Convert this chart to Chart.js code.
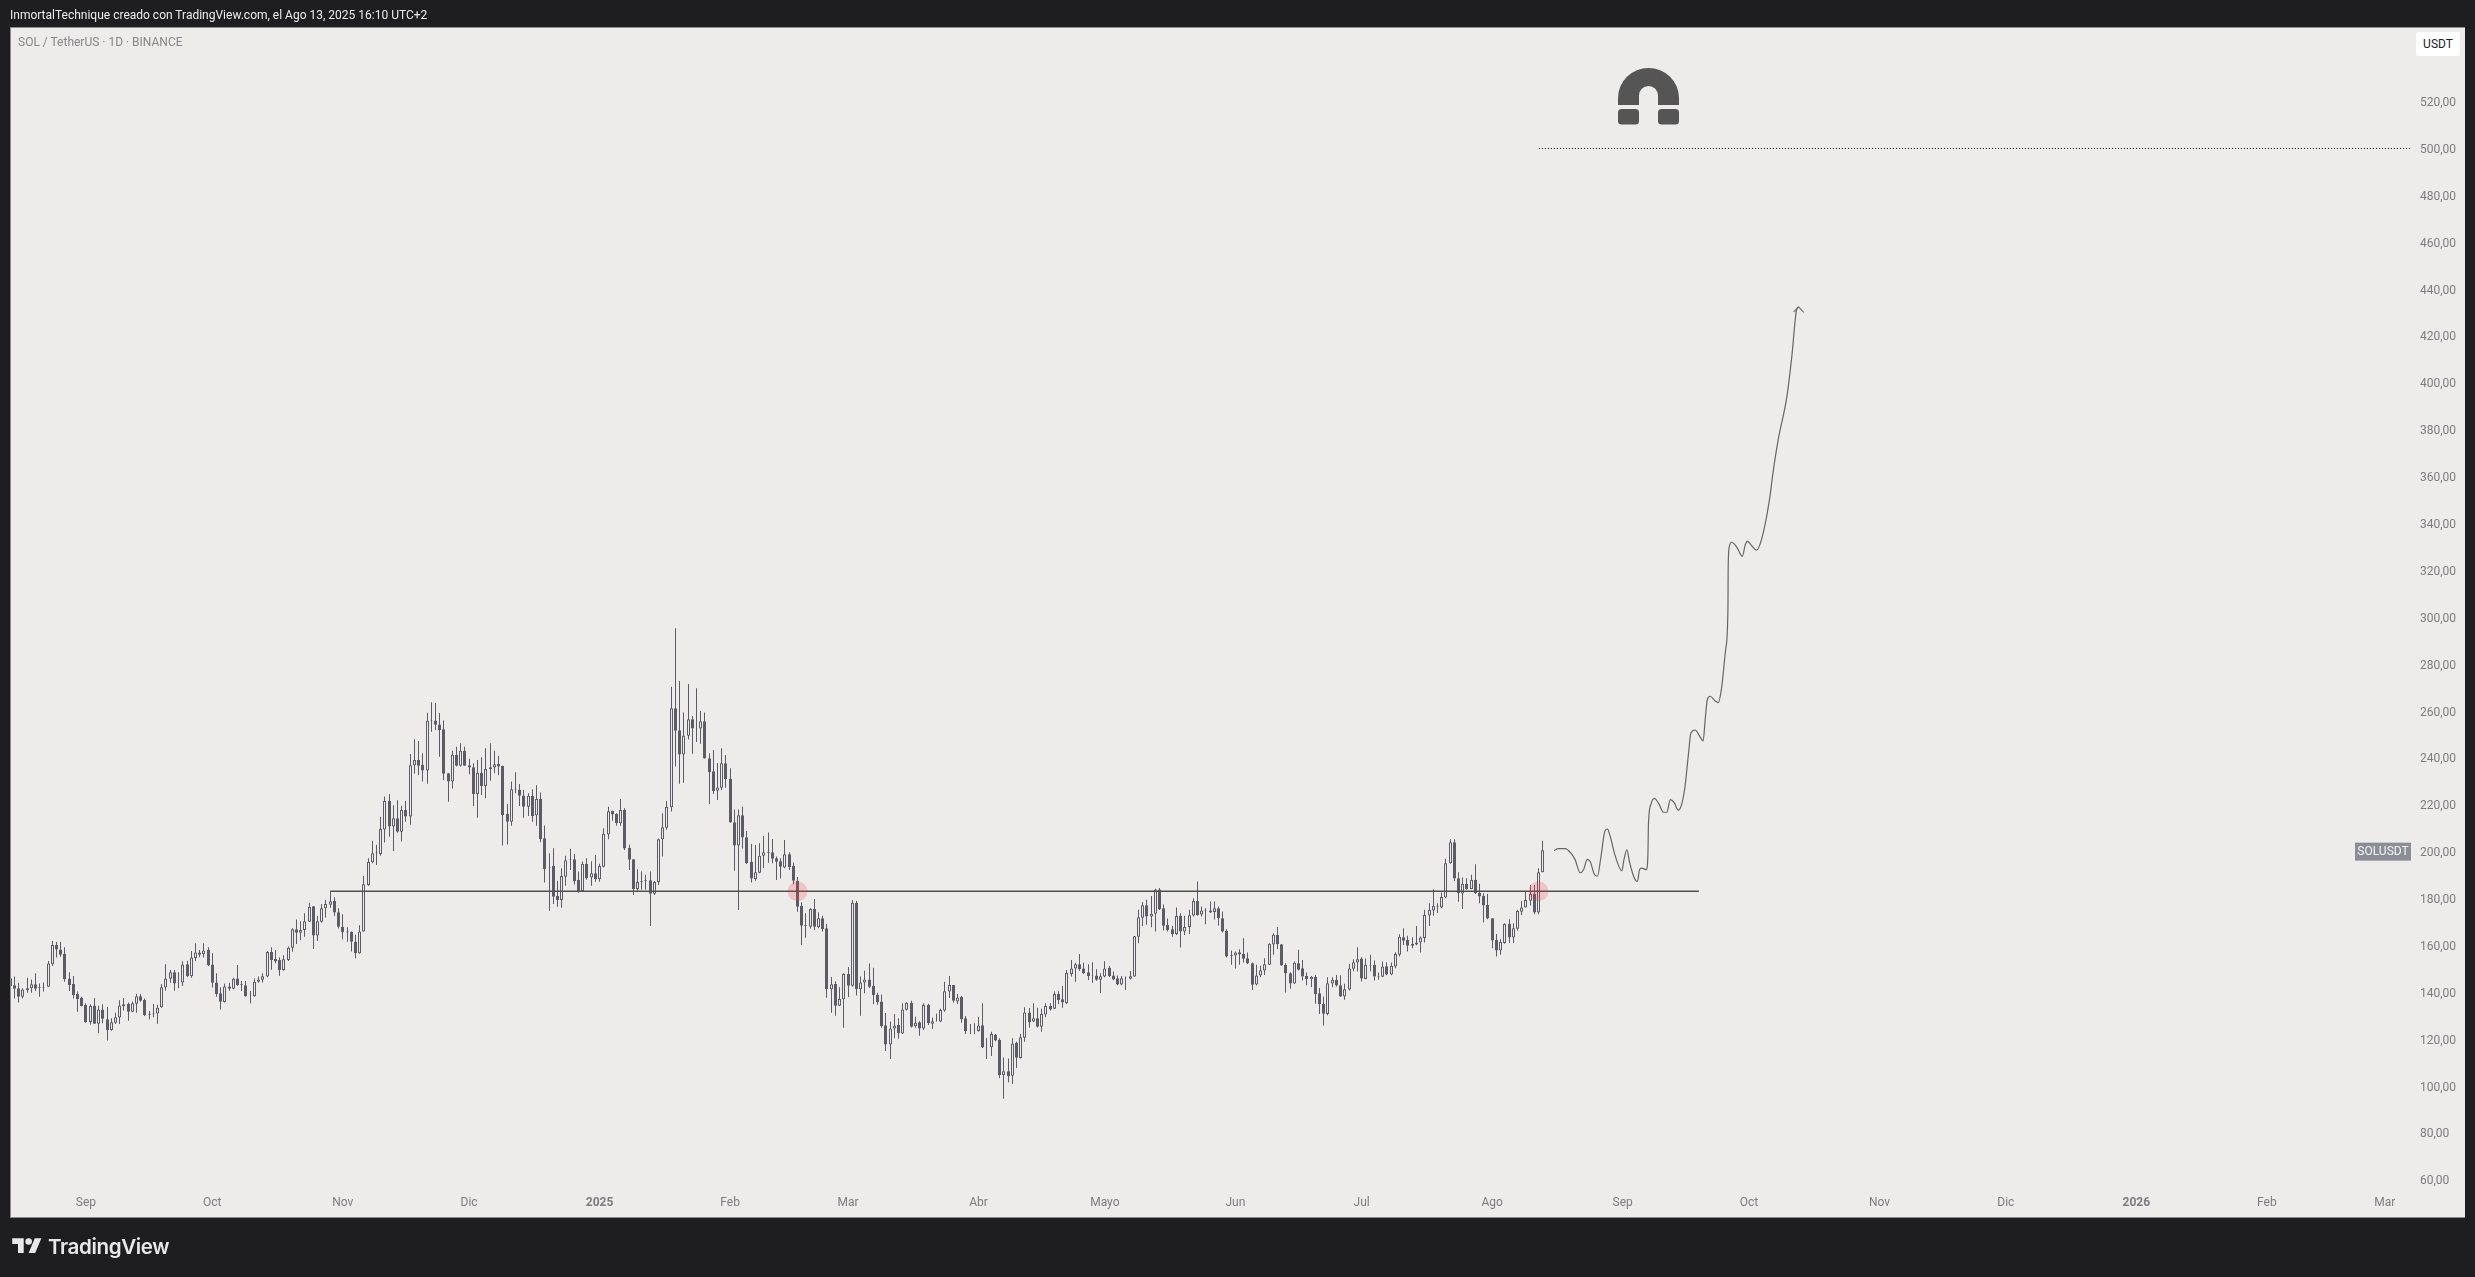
<!DOCTYPE html>
<html lang="es">
<head>
<meta charset="utf-8">
<title>SOL / TetherUS</title>
<script src="https://cdn.jsdelivr.net/npm/chart.js@4/dist/chart.umd.min.js"></script>
<style>
    html, body { margin: 0; padding: 0; width: 2475px; height: 1277px; overflow: hidden; background: #1e1e20; font-family: Roboto, sans-serif; }
    #panel { position: absolute; left: 10px; top: 27px; width: 2454px; height: 1189px; background: #edecea; border: 1px solid #8c8c8c; border-right: none; }
    #chart { position: absolute; left: 0; top: 0; }
    #byline { position: absolute; left: 10px; top: 7px; font-size: 12px; line-height: 16px; color: #ececec; white-space: nowrap; }
    #symbol { position: absolute; left: 18px; top: 34px; font-size: 12px; line-height: 16px; color: #85858b; white-space: nowrap; }
    #currency { position: absolute; left: 2416px; top: 32px; width: 44px; height: 24px; background: #fff; border-radius: 3px; font-size: 12px; line-height: 24px; text-align: center; color: #222; }
    #magnet { position: absolute; left: 1618px; top: 68px; }
    #logo { position: absolute; left: 12px; top: 1235px; }
    #brand { position: absolute; left: 48px; top: 1232px; font-family: Inter, sans-serif; font-size: 20.6px; font-weight: 600; line-height: 30px; letter-spacing: -0.4px; color: #e8e8e8; }
</style>
</head>
<body>
<div id="panel"></div>
<canvas id="chart" width="2475" height="1277"></canvas>
<div id="byline">InmortalTechnique creado con TradingView.com, el Ago 13, 2025 16:10 UTC+2</div>
<div id="symbol">SOL / TetherUS · 1D · BINANCE</div>
<div id="currency">USDT</div>
<svg id="magnet" width="61" height="57" viewBox="0 0 61 57">
    <path fill="#555" d="M0 37V30A30.5 30 0 0 1 61 30V37H40V27.5A9.5 9.5 0 0 0 21 27.5V37Z"/>
    <rect fill="#555" x="0" y="41" width="21" height="15.5" rx="3.5"/>
    <rect fill="#555" x="40" y="41" width="21" height="15.5" rx="3.5"/>
</svg>
<svg id="logo" width="30" height="23" viewBox="0 0 36 28">
    <path fill="#e8e8e8" d="M14 22H7V11H0V4h14v18zM28 22h-8l7.5-18h8L28 22z"/>
    <circle fill="#e8e8e8" cx="20" cy="8" r="4"/>
</svg>
<div id="brand">TradingView</div>

<script>
// Daily candles, first one is 14 Aug 2024 (day -18), day 0 is 1 Sep 2024
const firstDay = -18;

const opens = [
    146,143,141.7,138.1,141.7,141.7,143.4,141.8,142.4,142.4,
    152,160.2,158.3,156.3,145.9,143.5,139.3,137.6,134.6,127.3,
    134.4,126.6,132.7,128.5,123.9,127,129.2,134.9,135,131.7,
    135.1,138.3,136.7,130.6,130.6,130.9,133.6,142,145.8,148.5,
    144.1,144.2,152,146.8,154.6,157,156.2,158,151.9,144.2,
    139.6,135.9,142.5,141.5,145.9,143.4,143,139,138.3,144.5,
    145.4,146.7,157.2,154.2,153.8,149.5,153.8,159,166.9,165.4,
    166.6,170.1,176.7,164.2,170.1,175.8,177.3,179,174.1,168,
    165.9,165.8,161.6,156.6,165.9,185.8,195.5,199.3,199,209.5,
    221.6,210.7,214.2,208.5,217.8,215,236.9,239.1,237,234.6,
    255.6,256,254.3,252.2,233.4,229.9,241.3,236.6,243,236.9,
    236,224.6,233.7,228,235.2,235.9,237.4,236.6,216.1,212.8,
    226.5,226.3,224,219.2,223.8,215.4,222.5,205.7,193.6,193.9,
    181.1,179.4,189.3,196.5,196.8,188,183.1,194.8,189,190.8,
    188.2,193.6,207.3,217.4,216.1,212.1,217.8,201.6,196.8,184.1,
    187.2,187.5,187.8,182,187,205.3,210.2,218.9,261.2,251.8,
    241.4,249.5,256.5,252.5,252.5,255.6,239.8,234.3,226,227.3,
    237.7,231,212.5,202.6,215.5,206.1,195.6,188.3,191,198.3,
    199.7,199.7,197.2,195.9,193.2,198.9,193.9,187.5,176.8,168.4,
    168,175.5,167.7,171.6,167.3,141.3,143.5,134.3,137,147.8,
    142.8,178.2,141.3,144.2,145.5,142.7,138.8,136.1,125.9,117.7,
    124.6,126,122.4,132.6,135.4,125.5,127.2,124.5,134.7,126.6,
    127.5,127.5,132.2,140.3,143.1,136.1,138,128.9,124.3,124.2,
    123.5,125.9,116.7,116.5,122,119.6,104.7,106.3,104.4,118.5,
    112,120.6,131.4,127.5,128.9,125.3,130.5,134.2,133,139.3,
    137,135.4,147.8,150.1,152,150.2,148.5,147.2,147.2,145.4,
    146.7,150.5,147.2,146,143.3,146,145.8,146.7,163.7,171.8,
    177.1,172.3,173.5,183.9,175.8,168.7,166.9,164.9,172.6,165.9,
    167.8,172.8,178.9,173.2,174.6,174.9,174.2,175.9,171.6,166.2,
    155.8,155.7,157.1,156.4,154.5,152.4,143.3,147.2,149.3,151.8,
    160.4,164.4,160.5,151.7,148.1,143.7,152.4,150.3,147,145.6,
    146.6,139.6,135.1,130.7,143.7,145.3,143,138.2,141.2,150,
    152.7,154.4,145.7,151.4,151.7,146.7,146.6,151.1,147.6,151,
    156,163.5,162.4,160.7,160.4,161.2,163.2,172.8,174.9,176.6,
    176.2,180.4,195,204,188.7,182.1,186.3,184.1,188,182.4,
    181.1,177.3,171.6,162.4,157.8,161,169.1,163.4,167.1,174.4,
    176.2,179,181.9,174,191.2
];

const highs = [
    151.6,146.7,144.1,141.7,146.2,145.5,148.1,143.8,144.2,153.3,
    161.9,161.4,161.4,159.2,148.5,146.9,140.3,138.1,135.3,134.9,
    137.6,134.3,134.9,133.7,128.9,131.3,136.6,137.6,135.6,136.1,
    139.3,139.3,137.4,132,135,134.6,143.5,152,149.5,149.5,
    148.5,153.2,153.5,157.6,160.9,158,160.9,159.2,156.6,148.1,
    142.1,143.8,144.1,146.2,151.6,144.8,144.8,140.5,145.9,146.7,
    148.1,157.6,159.2,158,154.9,155.8,159.5,167.3,171.1,170.3,
    173.7,178.2,176.8,172.5,177.7,179.4,183.4,180.5,175.8,173.3,
    167.7,165.9,164.5,168.6,189.6,197.2,204.6,202.9,214.8,223.5,
    224.6,219.8,221.9,219.6,221.6,241.7,248,247.2,242,259.3,
    263.7,263.4,259.2,255.9,233.4,243,244.8,246.3,244.8,239.6,
    237.7,239.1,240.3,244.1,246.2,243,240.8,236.6,220.3,229.9,
    233.9,228.9,226.3,224.9,226.6,228.3,225.2,211.2,199.3,201.4,
    187.5,192.9,198.3,201.2,199,191.5,195.8,197.2,195.9,198.6,
    194.8,210,219.2,217.5,216.4,222.5,218.5,202.9,196.8,192.5,
    191.5,190.1,191.5,187.5,205.6,216.4,221.6,270.3,295.3,272.8,
    259.4,271.5,257.9,269.7,260,259.4,242,243.4,237.8,244.1,
    241.2,235.6,218,218,219.2,208.8,203.3,202.8,203.6,206.7,
    208.2,205.4,197.9,197.2,205,199.7,195.4,189.2,178.4,173.7,
    175.8,179.8,174.1,172.6,169.1,146.5,144.7,142.1,148.1,150.8,
    179.4,178.9,146.7,149.2,152.3,150.5,139.8,139.1,131.2,127.5,
    130.7,128.9,135.3,135.7,136.4,129.6,127.6,135.3,135.1,129.2,
    131,133,144.5,146.9,143.1,139.3,138.4,129.9,126.5,126.8,
    129.6,135.3,120.5,123.2,122.2,120.4,112.2,111.8,120.4,118.9,
    122.2,133.6,133.3,135.3,133.4,133,135.3,135.3,140.3,140.4,
    142.7,149.5,153.8,152.6,156.3,152.6,152,152.8,149.8,148.1,
    153.2,151.2,148.9,147.2,146.9,146.7,149.1,164,175.2,178.5,
    179.5,181.1,184.2,184.5,177.5,171.5,168.3,176.2,173.7,172.6,
    175.2,180.1,187.3,176.6,175.9,178.7,178.7,176.6,174.5,166.9,
    157.8,157.4,158.4,163.1,157,152.7,151.7,151.3,154.5,160.9,
    165.2,167.8,160.5,152.4,148.6,153.1,158.1,153.8,148.4,147,
    147.4,141.8,138.2,146.4,146.4,147.4,147.3,143.6,152.1,154.1,
    159.2,155,154.4,156,153.6,148.4,153.1,152.8,152.7,157.1,
    164.8,167.3,164.1,163.5,168.3,163.8,175.2,178,184,178,
    182.6,197,205.3,205.3,191.2,189,188.7,190.1,194.6,186.3,
    182.3,181.9,171.6,164.9,162.7,169.5,171.2,169.5,175.2,178.9,
    182.9,185.8,185.8,192.9,204.5
];

const lows = [
    141.7,137.4,135.6,137.4,139.8,139.8,140.5,138.1,140.3,142.4,
    151.2,154.8,155.2,144.5,140.5,137.4,131.7,133.9,127,126.3,
    126.5,122.5,126.8,119.4,123.6,126.5,126.5,132.2,127.9,131.6,
    131.3,136,129.9,128.5,129.3,126.6,133.4,140.7,144.1,140.7,
    141.7,142.7,146.4,146.2,153.3,154.9,154.8,151.2,142,138.1,
    132.7,135.6,140.7,141.3,142.7,140.5,138.1,135.3,138.1,144.1,
    144.2,146.4,149.6,152.4,147.1,149.2,153.3,157.3,160.6,162.3,
    163.7,170,158.5,161.9,169.7,171.9,176.1,172.7,167.2,162.6,
    161.6,157.4,154.5,156.4,165.8,185.4,195.1,194.3,198.2,203.9,
    206.4,200.3,208.1,204.3,212.8,211.5,233.2,232.7,229.9,229,
    251.2,251.9,240.5,230.6,221.3,226.9,236.3,236.3,236.6,233,
    219.5,214.5,224.2,222.8,230.2,233.4,232.7,202.6,203,211.1,
    224.9,219.5,214.5,215.2,212.8,211.1,204,186.8,174.8,177.7,
    176.5,176.1,185.4,192.2,186,182.5,182.8,188,185.4,187.2,
    187.2,193.2,205.3,213.2,211,211.1,200.7,192.2,181.5,183,
    183.7,183.7,168.3,181.5,185.8,197.9,209.3,217.1,236.3,229,
    229.4,247.9,241.8,246.8,246,239.7,220.3,224.6,222,226.3,
    227.3,212.4,191.9,175.1,201.3,194.7,186.8,187.6,190.8,193,
    195.3,195,187.9,188.5,192.9,192.2,186.1,174.4,160.2,163.3,
    167.2,166.6,167.3,165.9,137.7,131.3,130,134.1,124.9,138,
    142.4,138.6,130,139.6,141.8,134.9,134.7,124.9,114.9,111.5,
    120.4,120.2,122.2,132.2,125,124.9,121.5,123.9,126,124.3,
    127.5,127.2,131.7,137.6,135.6,135,127,122.2,122.2,122.2,
    123.2,116.2,111.5,112.8,119.1,103.4,94.6,101.6,100.9,107.7,
    111.7,118.9,124.9,127.3,125,123.2,129.3,132.2,132.9,135,
    133.4,135,146.7,144.5,149.2,147.8,145.2,144.1,144.9,139.7,
    146.4,146.5,145.1,143,143,141,145.5,146.5,160.9,168.3,
    168.8,167.7,165.9,175.1,166.4,165.9,163.7,164.4,159.1,164.4,
    164.9,172.3,172.6,172.3,169,173.8,171,168.5,165.5,154.8,
    151.7,150.1,151.7,152.7,152.1,141,142.9,146.5,147.4,151.6,
    156,158.5,151.3,139.9,141.5,143.6,149.3,145,143,142.3,
    135.1,130.7,125.8,130.2,142.2,142.5,138,136.8,140.8,149,
    148.9,144.6,145.6,149,145,145.3,146.4,147.3,147.3,150.3,
    155.3,160.2,157.4,158.8,160.1,157,161.2,168.3,172.6,173.8,
    175.9,180.1,194.8,187.5,178.6,175.5,183.7,184,181.9,178,
    169.8,171.2,158.8,155.3,156,160.7,161,161,166.2,173,
    176.2,177,173.3,173.3,191.2
];

const closes = [
    142.7,141.5,138.1,141.2,141,143.4,141.5,142.1,142,152.3,
    160.2,158.3,156,145.7,143.1,138.8,137.1,134.2,127.2,134.2,
    126.6,132.7,128.7,123.9,127.2,129.3,134.4,134.2,131.7,135.3,
    138.3,136.4,130.3,130.3,130.9,133.4,142.1,145.9,148.5,143.8,
    144.2,151.9,146.9,154.8,157,156,157.8,151.6,144.1,139.3,
    136,142.5,141.5,145.8,143.1,143,138.4,138.7,144.5,145.5,
    146.8,157.2,153.8,153.1,149.5,154.1,159,166.9,165.4,166.7,
    170.3,176.5,164.2,170.3,175.8,177.7,178.8,174,168,165.6,
    165.5,161.6,156.6,165.9,186.1,195.6,199.3,199.6,209.7,221.6,
    210.7,214.2,208.5,217.8,215,236.9,239.1,236.7,234.6,255.8,
    256,254.1,251.9,233.2,229.9,241.3,236.6,243,236.7,235.9,
    224.6,233.7,228,235.3,236,237.3,236.3,215.6,212.8,226.6,
    226.8,223.8,219.2,223.9,215.2,222.5,205.4,192.6,193.2,180.8,
    179.4,189.6,196.3,196.8,187.5,182.8,194.8,188.6,190.8,188.2,
    193.9,207.6,217.2,215.8,212.1,217.8,201.3,196.5,184.1,187.1,
    187.5,187.8,182,187.1,205.3,210.4,219.1,261.2,251.6,241.4,
    249.6,256.5,252.5,252.6,255.6,239.7,234,225.9,227.4,237.7,
    230.9,212.4,202.6,215.5,206,195,188.5,191.2,198.3,199.7,
    199.4,197,195.7,193.6,198.9,193.5,187.6,176.5,168.4,168.7,
    175.5,168,171.6,167,141.3,143.4,134.3,137.1,147.8,142.8,
    178.2,141.3,144.2,145.5,142.4,138.7,135.9,125.6,117.7,124.6,
    125.8,122.5,132.7,135.4,125.3,127,124.6,134.6,126.8,127.6,
    127.6,132.4,140.4,143.1,136.4,137.8,128.6,123.5,124.2,124.3,
    125.8,116.4,116.5,122.2,119.4,104.7,106.3,104.3,118.2,112.1,
    120.8,131.4,127.3,128.9,125.3,130.7,134.2,132.7,139.3,136.7,
    135.6,148.2,150.2,152,149.9,148.1,146.9,147.1,145.4,146.8,
    150.2,146.8,145.5,143.3,146,146.2,146.8,163.9,172,177.1,
    172.3,173.5,183.9,175.4,168.4,166.6,164.9,172.5,165.9,167.8,
    172.9,178.9,172.9,174.9,174.9,174,175.9,171.6,165.9,155.3,
    155.5,157,156.1,154.3,152.4,143.2,147.2,149.4,152,160.7,
    164.5,160.5,151.4,148.1,143.7,152.6,149.6,146.7,145.6,146.6,
    139.3,134.9,130.8,143.9,145.3,142.9,138.2,141.3,150.1,152.8,
    154.1,145.9,151.7,151.6,146.7,147,151,147.6,151.3,156.3,
    163.7,162,159.8,159.8,161.2,163.4,173,175.2,176.9,176.9,
    180.6,195.1,204,188.5,182.3,186.3,184,188,182.3,180.9,
    177,171.5,162.1,157.8,161.5,169.1,163.4,167.3,174.7,176.2,
    179.4,181.9,174,191.2,200.6
];

// Hand drawn forecast path
const pathDays = [
    348.7,349.7,351.3,352.7,353.7,354.9,355.7,356.6,357.3,358.2,359,359.8,360.8,361.4,362,363.2,
    364.8,365.3,366,366.6,367.7,368.5,369,369.5,370.6,371,371.1,371.7,372.5,373.5,374.7,375.5,
    376.3,377.2,378.2,379,379.8,380.6,381.2,382.2,383.4,384.1,384.6,385.1,385.8,386.9,387.7,388.5,
    389.5,390,390.05,390.3,390.9,392.1,393.4,394.1,394.6,395.7,396.8,398,399.8,400.8,402,404,
    405.2,406.3,406.8
];
const pathPrices = [
    200.4,201.3,201.3,199.4,196.6,191,192.3,196.7,195.7,190.6,189.5,197.4,208.9,209.6,206.7,198.3,
    191.8,196.6,200.8,195.7,189,187.3,192.3,193,192.3,199.1,210.9,220.2,222.7,220.7,216.8,216.8,
    222.2,221,217.7,220.2,227.8,241.3,250.6,251.9,248.9,247.2,256.5,264.9,266.3,264.4,263.6,270,
    286.9,303.8,320.7,329.9,332,329.9,326,330.8,332.5,330.4,328.6,333.3,349.4,362.9,376.4,394.1,
    411.8,431.2,432.4
];
const arrowDays = [405.6, 406.8, 408];
const arrowPrices = [430.3, 432.4, 430.1];

// Support level, target level and the two touch markers
const levelDays = [58.2, 383.1];
const levelPrices = [183.1, 183.1];
const targetDays = [345.1, 552];
const targetPrices = [500, 500];
const markerDays = [169, 345];
const markerPrices = [183.1, 183.1];

// Axis ticks
const monthDays = [0, 30, 61, 91, 122, 153, 181, 212, 242, 273, 303, 334, 365, 395, 426, 456, 487, 518, 546];
const monthLabels = ['Sep', 'Oct', 'Nov', 'Dic', '2025', 'Feb', 'Mar', 'Abr', 'Mayo', 'Jun', 'Jul', 'Ago', 'Sep', 'Oct', 'Nov', 'Dic', '2026', 'Feb', 'Mar'];
const priceTicks = [60, 80, 100, 120, 140, 160, 180, 200, 220, 240, 260, 280, 300, 320, 340, 360, 380, 400, 420, 440, 460, 480, 500, 520];
const lastPriceLabel = 'SOLUSDT';
const lastPriceValue = 200;

const candleColor = '#5c5c66';
const panelColor = '#edecea';
const labelColor = '#7c7c82';

function zipPoints(xs, ys) {
    return xs.map((x, i) => ({ x: x, y: ys[i] }));
}

const days = opens.map((_, i) => firstDay + i);

// Snap candles to whole pixels, same as the original chart
const snapCandles = {
    id: 'snapCandles',
    afterDatasetsUpdate(chart) {
        chart.getSortedVisibleDatasetMetas().forEach(meta => {
            if (meta.type !== 'bar') return;
            meta.data.forEach(bar => { bar.x = Math.floor(bar.x) + 0.5; });
        });
    }
};

// Roboto sits a little high on its middle baseline, nudge the price labels down
const nudgePriceLabels = {
    id: 'nudgePriceLabels',
    beforeDraw(chart) {
        chart.scales.y.getLabelItems().forEach(item => { item.options.translation[1] += 1.5; });
    }
};

// Grey symbol badge next to the price scale
const lastPriceBadge = {
    id: 'lastPriceBadge',
    afterDraw(chart) {
        const ctx = chart.ctx;
        const y = chart.scales.y.getPixelForValue(lastPriceValue);
        const right = chart.chartArea.right + 1;
        ctx.save();
        ctx.fillStyle = '#8b8e96';
        ctx.fillRect(right - 56, y - 9, 56, 18);
        ctx.fillStyle = '#f4f4f4';
        ctx.font = '12px Roboto, sans-serif';
        ctx.textAlign = 'center';
        ctx.textBaseline = 'middle';
        ctx.fillText(lastPriceLabel, right - 28, y + 0.5);
        ctx.restore();
    }
};

new Chart(document.getElementById('chart'), {
    type: 'bar',
    data: {
        datasets: [
            {
                type: 'line',
                data: zipPoints(markerDays, markerPrices),
                showLine: false,
                pointRadius: 10,
                pointBorderWidth: 0,
                pointBackgroundColor: 'rgba(242, 54, 69, 0.22)',
                order: 0
            },
            {
                type: 'line',
                data: zipPoints(levelDays, levelPrices),
                borderColor: '#505050',
                borderWidth: 1.3,
                pointRadius: 0,
                order: 1
            },
            {
                type: 'line',
                data: zipPoints(targetDays, targetPrices),
                borderColor: '#111',
                borderWidth: 1,
                borderDash: [1, 2],
                pointRadius: 0,
                order: 1
            },
            {
                type: 'line',
                data: zipPoints(pathDays, pathPrices),
                borderColor: '#666',
                borderWidth: 1.2,
                cubicInterpolationMode: 'monotone',
                pointRadius: 0,
                order: 1
            },
            {
                type: 'line',
                data: zipPoints(arrowDays, arrowPrices),
                borderColor: '#666',
                borderWidth: 1.1,
                pointRadius: 0,
                order: 1
            },
            {
                data: days.map((d, i) => ({ x: d, y: [opens[i], closes[i]] })),
                barThickness: 3,
                borderWidth: 1,
                borderSkipped: false,
                inflateAmount: 0,
                borderColor: candleColor,
                backgroundColor: days.map((_, i) => closes[i] >= opens[i] ? panelColor : candleColor),
                order: 2
            },
            {
                data: days.map((d, i) => ({ x: d, y: [lows[i], highs[i]] })),
                barThickness: 1,
                borderWidth: 0,
                inflateAmount: 0,
                backgroundColor: candleColor,
                order: 3
            }
        ]
    },
    options: {
        responsive: false,
        animation: false,
        events: [],
        layout: { padding: { left: 11, top: 28, right: 10, bottom: 61 } },
        datasets: { bar: { grouped: false } },
        plugins: { legend: { display: false }, title: { display: false }, tooltip: { enabled: false } },
        scales: {
            x: {
                type: 'linear',
                offset: false,
                min: -17.81,
                max: 552,
                grid: { display: false, drawTicks: false },
                border: { display: false },
                afterBuildTicks(scale) { scale.ticks = monthDays.map(v => ({ value: v })); },
                afterFit(scale) { scale.height = 28; },
                ticks: {
                    autoSkip: false,
                    maxRotation: 0,
                    padding: 8,
                    color: labelColor,
                    font: ctx => ({
                        family: 'Roboto, sans-serif',
                        size: 12,
                        weight: ctx.tick && (ctx.tick.value === 122 || ctx.tick.value === 487) ? 'bold' : 'normal'
                    }),
                    callback: v => monthLabels[monthDays.indexOf(v)]
                }
            },
            y: {
                type: 'linear',
                position: 'right',
                min: 56.5,
                max: 551.4,
                grid: { display: false, drawTicks: false },
                border: { display: false },
                afterBuildTicks(scale) { scale.ticks = priceTicks.map(v => ({ value: v })); },
                afterFit(scale) { scale.width = 55; },
                ticks: {
                    autoSkip: false,
                    padding: 10,
                    color: labelColor,
                    font: { family: 'Roboto, sans-serif', size: 12 },
                    callback: v => v.toFixed(2).replace('.', ',')
                }
            }
        }
    },
    plugins: [snapCandles, nudgePriceLabels, lastPriceBadge]
});
</script>
</body>
</html>
